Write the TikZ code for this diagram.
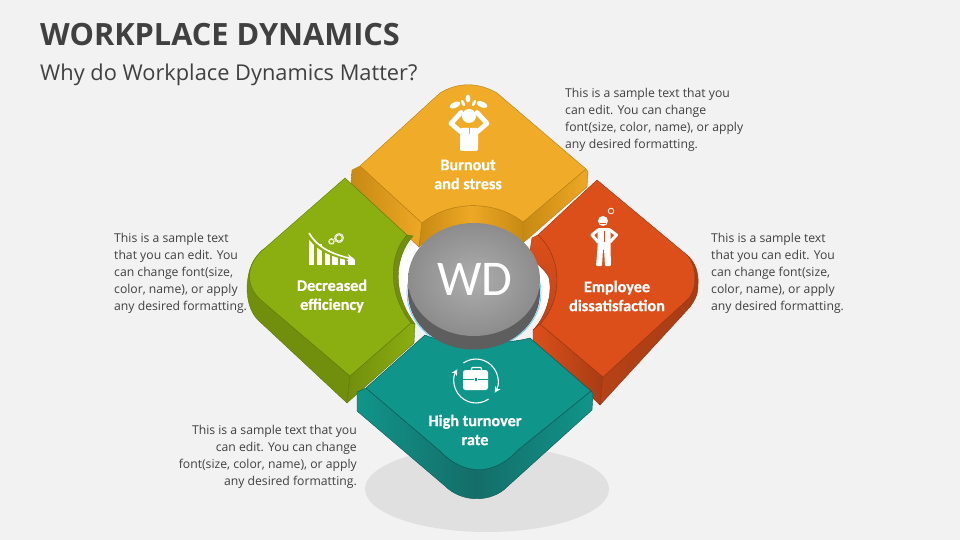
\documentclass[tikz,border=0pt]{standalone}
\usepackage{fontspec}
\setmainfont{Open Sans}
\newfontfamily\labelfont[BoldFeatures={FakeBold=0.6}]{Carlito}
\usetikzlibrary{arrows.meta}
\definecolor{bgc}{HTML}{F2F2F2}
\definecolor{inkc}{HTML}{404040}
\definecolor{yf}{HTML}{F0AB28}\definecolor{yd}{HTML}{C88A14}\definecolor{yl}{HTML}{EDA825}\definecolor{ys}{HTML}{B57D10}
\definecolor{gf}{HTML}{8BAE10}\definecolor{gd}{HTML}{728E0D}\definecolor{gs}{HTML}{5F7A0A}
\definecolor{rf}{HTML}{DC4F1A}\definecolor{rd}{HTML}{A83C14}\definecolor{rs}{HTML}{96340F}
\definecolor{tf}{HTML}{10958A}\definecolor{td}{HTML}{146D68}\definecolor{ts}{HTML}{0B5A55}
\tikzset{
  facey/.style={fill=yf,draw=ys,line width=.4pt,line join=round},
  facegr/.style={fill=gf,draw=gs,line width=.4pt,line join=round},
  facer/.style={fill=rf,draw=rs,line width=.4pt,line join=round},
  facet/.style={fill=tf,draw=ts,line width=.5pt,line join=round},
  body/.style={font=\fontsize{12.2}{17}\selectfont,text=inkc,inner sep=0pt},
  lab/.style={font=\labelfont\bfseries\fontsize{16.2}{19}\selectfont,text=white,inner sep=0pt,align=center},
  iconw/.style={fill=white,draw=none},
  iconl/.style={draw=white,line join=round,line cap=round},
}
\begin{document}
\begin{tikzpicture}[x=1pt,y=-1pt]
\fill[bgc] (0,0) rectangle (960,540);
\useasboundingbox (0,0) rectangle (960,540);
% shadow + white hub
\fill[fill=black!12] (487,489) ellipse [x radius=122pt,y radius=43pt];
\fill[white] (474,282) ellipse [x radius=79pt,y radius=60pt];
% yellow
\path[draw=ys,line width=.4pt,left color=yd,right color=yl,line join=round] (360,166) -- (352,170) -- (351,183) -- (419,247) -- (422,223) -- cycle;
\path[draw=ys,line width=.4pt,left color=yd,right color=yd,middle color=yl] (422,223) .. controls (450,200) and (495,200) .. (523,222) -- (523,243) .. controls (495,222) and (450,222) .. (419,247) -- cycle;
\path[draw=ys,line width=.4pt,left color=yd,right color=yl,line join=round] (523,222) -- (586,169) -- (588,172) -- (587,187) -- (523,243) -- cycle;
\path[facey] (360,166) -- (440,93) .. controls (458,82) and (478,82) .. (497,93) -- (586,169) -- (523,222) .. controls (495,200) and (450,200) .. (422,223) -- cycle;
% green
\path[draw=gs,line width=.4pt,fill=gd,line join=round] (265,248) .. controls (252,258) and (248,270) .. (247,287) .. controls (247,300) and (250,312) .. (258,320) -- (347,403) -- (350,376) -- (262,301) .. controls (243,285) and (247,262) .. (265,248) -- cycle;
\path[draw=gs,line width=.4pt,left color=gd,right color=gf,line join=round] (350,376) -- (411,323) -- (415,324) -- (414,343) -- (347,403) -- cycle;
\path[draw=gs,line width=.4pt,fill=gd,line join=round] (407,235) -- (413,236) .. controls (395,256) and (391,292) .. (415,324) -- (411,323) .. controls (388,295) and (388,255) .. (407,235) -- cycle;
\path[facegr] (345,178) -- (407,235) .. controls (388,255) and (388,295) .. (411,323) -- (350,376) -- (262,301) .. controls (243,285) and (247,262) .. (265,248) -- cycle;
% red
\path[draw=rs,line width=.4pt,top color=rf,bottom color=rd!60!rf,line join=round] (538,235) .. controls (563,258) and (563,300) .. (540,324) -- (533,330) .. controls (545,318) and (553,295) .. (549,278) .. controls (546,270) and (535,262) .. (529,257) -- (532,238) -- cycle;
\path[draw=rs,line width=.4pt,left color=rf,right color=rd,line join=round] (540,324) -- (603,377) -- (600,405) -- (533,341) -- (533,330) -- cycle;
\path[draw=rs,line width=.4pt,left color=rd!70!rf,right color=rd,line join=round] (687,255) .. controls (695,262) and (699,272) .. (698,285) .. controls (698,295) and (695,300) .. (690,307) -- (600,405) -- (603,377) -- (687,300) .. controls (698,290) and (697,265) .. (687,255) -- cycle;
\path[facer] (597,180) -- (687,255) .. controls (697,265) and (698,290) .. (687,300) -- (603,377) -- (540,324) .. controls (563,300) and (563,258) .. (538,235) -- cycle;
% hub outline, behind teal
\draw[draw=blue!30!cyan!60!white,line width=.8pt] (474,293) ellipse [x radius=67pt,y radius=57pt];
% teal
\path[draw=ts,line width=.4pt,left color=tf,right color=tf,middle color=td,line join=round] (366,388) -- (357,392) -- (357,411) -- (445,486) .. controls (462,503) and (492,503) .. (508,486) -- (592,410) -- (593,394) -- (591,391) -- (518,450) .. controls (494,476) and (464,476) .. (440,451) -- cycle;
\path[facet] (425,335) .. controls (445,345) and (505,345) .. (530,338) -- (591,391) -- (518,450) .. controls (494,476) and (464,476) .. (440,451) -- (366,388) -- cycle;
% hub disc
\fill[fill=black!63] (474,293) ellipse [x radius=66pt,y radius=56.5pt];
\shade[inner color=black!32,outer color=black!45] (474,279.5) ellipse [x radius=66pt,y radius=56.5pt];
\node[font=\labelfont\fontsize{50}{50}\selectfont,text=white,inner sep=0pt] (hub) at (475,279) {WD};
% title
\node[anchor=base west,inner sep=0pt,text=inkc,font=\bfseries\fontsize{30.7}{34}\selectfont] (title) at (40,45.5) {WORKPLACE DYNAMICS};
\node[anchor=base west,inner sep=0pt,text=inkc,font=\fontsize{21.8}{26}\selectfont] (subtitle) at (40,80.5) {Why do Workplace Dynamics Matter?};
% paragraphs
\node[body,anchor=north west,align=left] (t1) at (565,88) {This is a sample text that you\\can edit. You can change\\font(size, color, name), or apply\\any desired formatting.};
\node[body,anchor=north west,align=left] (t2) at (711,233) {This is a sample text\\that you can edit. You\\can change font(size,\\color, name), or apply\\any desired formatting.};
\node[body,anchor=north west,align=left] (t3) at (114,233) {This is a sample text\\that you can edit. You\\can change font(size,\\color, name), or apply\\any desired formatting.};
\node[body,anchor=north east,align=right] (t4) at (357,425) {This is a sample text that you\\can edit. You can change\\font(size, color, name), or apply\\any desired formatting.};
% labels
\node[lab] (l1) at (468,174.5) {Burnout\\and stress};
\node[lab] (l2) at (332,296) {Decreased\\efficiency};
\node[lab] (l3) at (617,296) {Employee\\dissatisfaction};
\node[lab] (l4) at (475,430) {High turnover\\rate};
% icon: burnout
\fill[iconw] (469,116) circle [radius=7pt];
\draw[iconl,line width=4.8pt] (461,132) -- (451,123.5) -- (461,112.5);
\draw[iconl,line width=4.8pt] (477,132) -- (487,123.5) -- (477,112.5);
\fill[iconw,rounded corners=2pt] (460,128) -- (478,128) -- (478,151) -- (460,151) -- cycle;
\draw[yf,line width=.8pt] (469,127) -- (469,134);
\fill[iconw,rotate around={25:(455,105)}] (455,105) ellipse [x radius=5.8pt,y radius=2.8pt];
\fill[iconw,rotate around={-65:(463,103)}] (463,103) ellipse [x radius=3.4pt,y radius=1.5pt];
\fill[iconw] (468,98.5) ellipse [x radius=2.4pt,y radius=4pt];
\fill[iconw,rotate around={65:(474,103)}] (474,103) ellipse [x radius=3.4pt,y radius=1.5pt];
\fill[iconw,rotate around={-25:(482,104.5)}] (482,104.5) ellipse [x radius=5.8pt,y radius=2.8pt];
% icon: employee
\fill[iconw] (603,221) circle [radius=5pt];
\draw[rf,line width=.7pt] (600,223) -- (606,223);
\fill[iconw,rounded corners=1pt] (597.5,228) -- (610.5,228) -- (610.5,248) -- (611,266) -- (605,266) -- (604,249) -- (603,249) -- (602,266) -- (596,266) -- (597.5,248) -- cycle;
\draw[iconl,line width=3pt] (598,230) -- (592,235) -- (598,242);
\draw[iconl,line width=3pt] (610,230) -- (616.5,235) -- (610,242);
\draw[rf,line width=.9pt] (604,231) -- (604,242);
\draw[white,line width=.8pt] (611,211) circle [radius=2.8pt];
% icon: decreased
\fill[iconw] (309,238) rectangle (314,265);
\fill[iconw] (317,244) rectangle (322,265);
\fill[iconw] (324.5,250) rectangle (329.5,265);
\fill[iconw] (332,254) rectangle (338,265);
\fill[iconw] (340,257) rectangle (345,265);
\fill[iconw] (348,260) rectangle (355,265);
\draw[gf,line width=3.4pt] (308,235) .. controls (318,250) and (332,255) .. (348,258.5);
\draw[white,line width=1.6pt,-{Stealth[length=8pt,width=7pt]}] (309,233) .. controls (318,248) and (332,254) .. (355,259.5);
\draw[white,line width=1.2pt,dash pattern=on 1pt off .5pt] (339,238) circle [radius=4.4pt];
\draw[white,line width=.8pt] (339,238) circle [radius=3.2pt];
\draw[white,line width=.9pt,dash pattern=on .8pt off .5pt] (331.5,241.5) circle [radius=2.8pt];
\draw[white,line width=.5pt] (331.5,241.5) circle [radius=2pt];
% icon: briefcase
\draw[white,line width=1.1pt,-{Stealth[length=6pt,width=6pt]}] (488.6,399) arc [start angle=-55,end angle=-212,radius=22pt];
\draw[white,line width=1.1pt,-{Stealth[length=6pt,width=6pt]}] (463.4,363) arc [start angle=125,end angle=-32,radius=22pt];
\draw[white,line width=1.2pt,rounded corners=1pt] (471.5,371) -- (471.5,367.5) -- (481.5,367.5) -- (481.5,371);
\fill[iconw,rounded corners=2.5pt] (463,370) rectangle (488,390);
\draw[tf,line width=.8pt] (463,379) -- (488,379);
\fill[iconw] (474,376.5) rectangle (478,382);
\fill[tf] (475.2,378) rectangle (476.8,380.5);
\end{tikzpicture}
\end{document}
